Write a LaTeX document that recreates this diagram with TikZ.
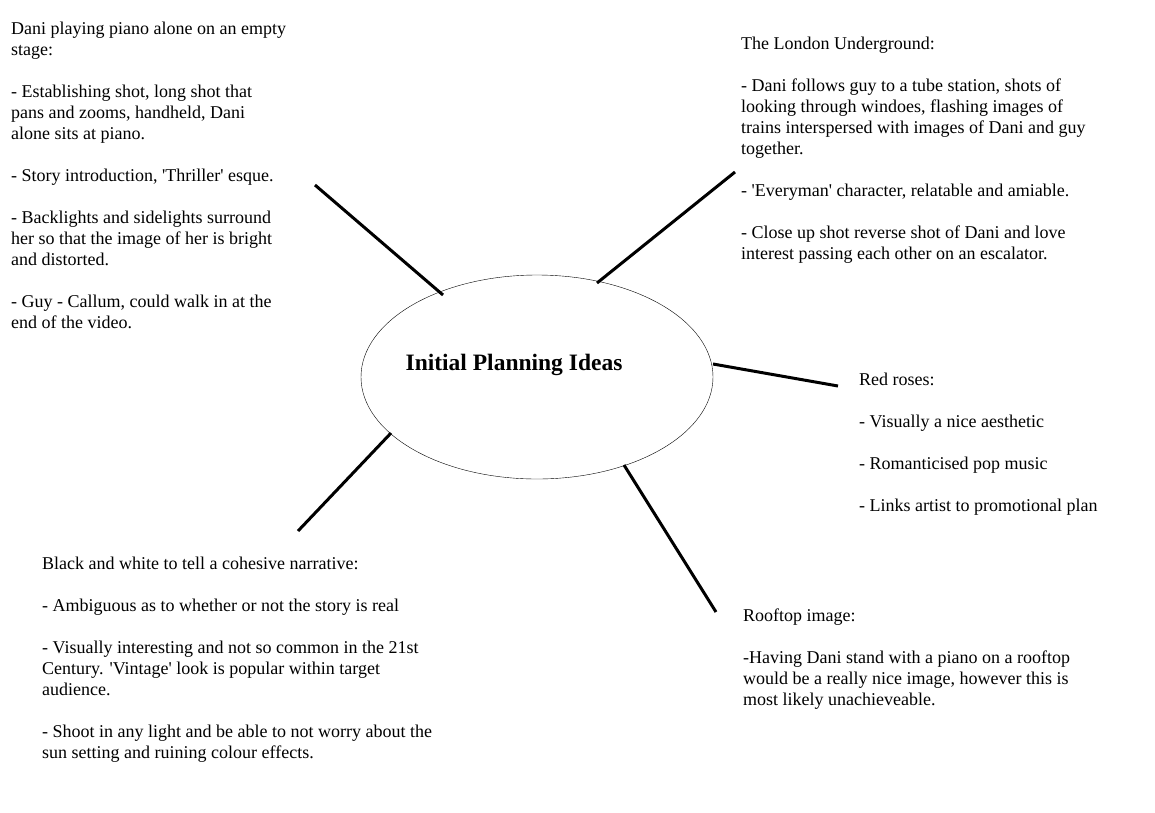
\documentclass[tikz,border=0pt]{standalone}
\usepackage{fontspec}
\setmainfont{Liberation Serif}
\usetikzlibrary{shapes.geometric}
\newcommand{\q}{\textquotesingle}
\begin{document}
\begin{tikzpicture}[x=1pt,y=-1pt,
  txt/.style={anchor=north west,inner sep=0pt,align=left,font=\fontsize{18}{21}\selectfont},
  spoke/.style={line width=3pt}]
\useasboundingbox[fill=white] (0,0) rectangle (1155,812);
\node[ellipse,draw,minimum width=352pt,minimum height=204pt,inner sep=0pt] (c) at (537,377) {};
\node[font=\bfseries\fontsize{23.5}{26}\selectfont] (t) at (514,365) {Initial Planning Ideas};
\coordinate (a1) at (315,185); \coordinate (b1) at (443,295);
\coordinate (a2) at (735,172); \coordinate (b2) at (597,283);
\coordinate (a3) at (838,386); \coordinate (b3) at (713,364);
\coordinate (a4) at (298,531); \coordinate (b4) at (391,433);
\coordinate (a5) at (716,612); \coordinate (b5) at (624,465);
\foreach \i in {1,...,5} \draw[spoke] (a\i) -- (b\i);
\node[txt] (tl) at (11,22) {Dani playing piano alone on an empty\\stage:\\[21pt]- Establishing shot, long shot that\\pans and zooms, handheld, Dani\\alone sits at piano.\\[21pt]- Story introduction, \q Thriller\q{} esque.\\[21pt]- Backlights and sidelights surround\\her so that the image of her is bright\\and distorted.\\[21pt]- Guy - Callum, could walk in at the\\end of the video.};
\node[txt] (tr) at (741,37) {The London Underground:\\[21pt]- Dani follows guy to a tube station, shots of\\looking through windoes, flashing images of\\trains interspersed with images of Dani and guy\\together.\\[21pt]- \q Everyman\q{} character, relatable and amiable.\\[21pt]- Close up shot reverse shot of Dani and love\\interest passing each other on an escalator.};
\node[txt] (rr) at (859,373) {Red roses:\\[21pt]- Visually a nice aesthetic\\[21pt]- Romanticised pop music\\[21pt]- Links artist to promotional plan};
\node[txt] (bl) at (42,557) {Black and white to tell a cohesive narrative:\\[21pt]- Ambiguous as to whether or not the story is real\\[21pt]- Visually interesting and not so common in the 21st\\Century. \q Vintage\q{} look is popular within target\\audience.\\[21pt]- Shoot in any light and be able to not worry about the\\sun setting and ruining colour effects.};
\node[txt] (br) at (743,609) {Rooftop image:\\[21pt]-Having Dani stand with a piano on a rooftop\\would be a really nice image, however this is\\most likely unachieveable.};
\end{tikzpicture}
\end{document}
